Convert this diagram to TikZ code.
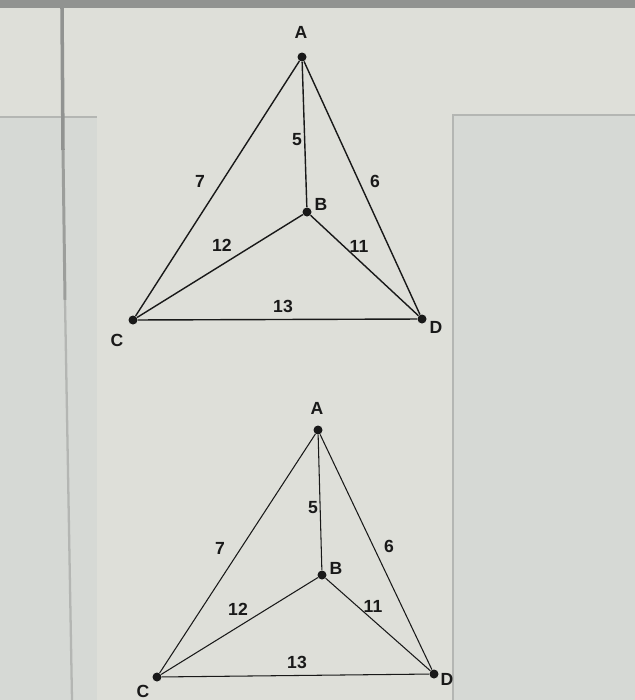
\documentclass[tikz,border=0pt]{standalone}
\usepackage{fontspec}
\setmainfont{Liberation Sans}
\definecolor{screen}{RGB}{222,223,217}
\definecolor{panel}{RGB}{214,217,213}
\definecolor{edgeline}{RGB}{180,182,179}
\definecolor{frame}{RGB}{145,147,145}
\definecolor{ink}{RGB}{25,25,25}

\begin{document}
\begin{tikzpicture}[x=0.02cm,y=-0.02cm,
    vertex/.style={circle,fill=ink,inner sep=0pt,minimum size=0.18cm},
    vlabel/.style={font=\fontsize{10}{12}\selectfont\bfseries,text=ink,inner sep=1pt},
    weight/.style={font=\fontsize{10}{12}\selectfont\bfseries,text=ink,inner sep=1pt}]
      % screen background
      \fill[screen] (0,0) rectangle (635,700);
      \useasboundingbox (0,0) rectangle (635,700);
      \fill[panel] (0,117) rectangle (97,700);
      \draw[edgeline,line width=0.8pt] (0,117) -- (97,117);
      \fill[panel] (453,115) rectangle (635,700);
      \draw[edgeline,line width=0.8pt] (453,700) -- (453,115) -- (635,115);
      \fill[frame] (0,0) rectangle (635,8);
      \draw[frame,line width=2pt] (62,8) -- (63,150);
      \draw[frame!70!edgeline,line width=1.7pt] (63,150) -- (65,300);
      \draw[edgeline,line width=1.3pt] (65,300) -- (72,700);

      % upper graph
      \node[vertex] (A1) at (302,57)  {};
      \node[vertex] (B1) at (307,212) {};
      \node[vertex] (C1) at (133,320) {};
      \node[vertex] (D1) at (422,319) {};
      \node[vlabel] (nA1) at (301,32)  {A};
      \node[vlabel] (nB1) at (321,204) {B};
      \node[vlabel] (nC1) at (117,340) {C};
      \node[vlabel] (nD1) at (436,327) {D};

      \path[draw=ink,line width=0.8pt]
                (A1) edge (B1)
                (A1) edge (C1)
                (A1) edge (D1)
                (B1) edge (C1)
                (B1) edge (D1)
                (C1) edge (D1);
      \node[weight] (w5a)  at (297,140) {5};
      \node[weight] (w7a)  at (200,181) {7};
      \node[weight] (w6a)  at (375,181) {6};
      \node[weight] (w12a) at (222,245) {12};
      \node[weight] (w11a) at (359,246) {11};
      \node[weight] (w13a) at (283,306) {13};

      % lower graph
      \node[vertex] (A2) at (318,430) {};
      \node[vertex] (B2) at (322,575) {};
      \node[vertex] (C2) at (157,677) {};
      \node[vertex] (D2) at (434,674) {};
      \node[vlabel] (nA2) at (317,408) {A};
      \node[vlabel] (nB2) at (336,568) {B};
      \node[vlabel] (nC2) at (143,691) {C};
      \node[vlabel] (nD2) at (447,679) {D};

      \path[draw=ink,line width=0.6pt]
                (A2) edge (B2)
                (A2) edge (C2)
                (A2) edge (D2)
                (B2) edge (C2)
                (B2) edge (D2)
                (C2) edge (D2);
      \node[weight] (w5b)  at (313,508) {5};
      \node[weight] (w7b)  at (220,548) {7};
      \node[weight] (w6b)  at (389,546) {6};
      \node[weight] (w12b) at (238,609) {12};
      \node[weight] (w11b) at (373,606) {11};
      \node[weight] (w13b) at (297,662) {13};
\end{tikzpicture}
\end{document}
